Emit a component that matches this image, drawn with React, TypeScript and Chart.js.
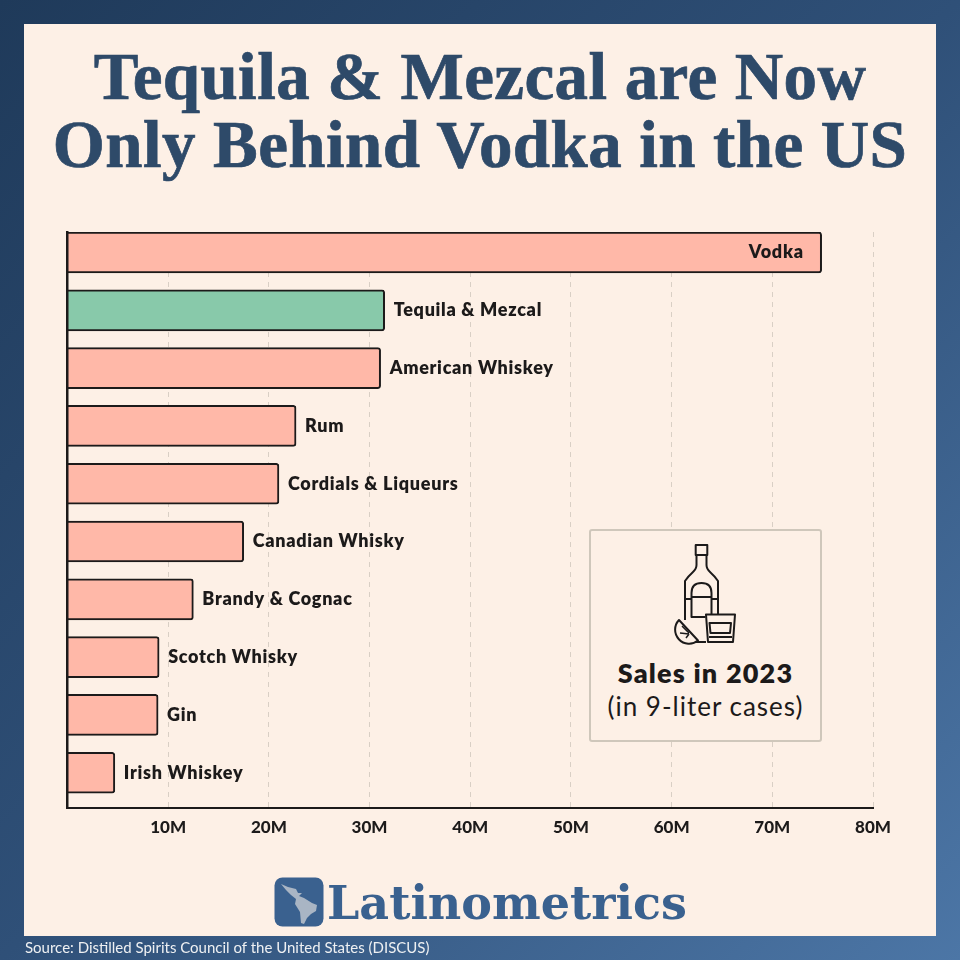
import React, { useEffect, useRef } from "react";
import { Chart, registerables } from "chart.js";

Chart.register(...registerables);

const categories = ["Vodka","Tequila & Mezcal","American Whiskey","Rum","Cordials & Liqueurs","Canadian Whisky","Brandy & Cognac","Scotch Whisky","Gin","Irish Whiskey"];
const salesMillions = [74.9, 31.5, 31.1, 22.7, 21.0, 17.5, 12.5, 9.1, 9.0, 4.7];
const barColors = ["#ffb8a8","#88c9aa","#ffb8a8","#ffb8a8","#ffb8a8","#ffb8a8","#ffb8a8","#ffb8a8","#ffb8a8","#ffb8a8"];
const INK = "#1c1a1a";
const LABEL_FONT = "800 18px Lato";

const barLabels = {
  id: "barLabels",
  afterDatasetsDraw(chart: any) {
    const { ctx, scales } = chart;
    ctx.save();
    ctx.font = LABEL_FONT;
    ctx.fillStyle = INK;
    ctx.textBaseline = "middle";
    try { ctx.letterSpacing = "0.7px"; } catch {}
    categories.forEach((name, i) => {
      const x = scales.x.getPixelForValue(salesMillions[i]);
      const y = scales.y.getPixelForValue(i);
      if (i === 0) { ctx.textAlign = "right"; ctx.fillText(name, x - 18, y); }
      else { ctx.textAlign = "left"; ctx.fillText(name, x + 9, y); }
    });
    ctx.restore();
  },
};

function App() {
  const ref = useRef<HTMLCanvasElement>(null);
  useEffect(() => {
    const chart = new Chart(ref.current!, {
      type: "bar",
      data: {
        datasets: [{
          label: "Sales in 2023",
          data: salesMillions.map((v, i) => ({ x: v, y: i })),
          backgroundColor: barColors,
          borderColor: INK,
          borderWidth: 2,
          borderRadius: 3,
          barThickness: 41,
        }],
      },
      options: {
        indexAxis: "y",
        responsive: false,
        animation: false,
        layout: { padding: { left: 67.5, right: 87, top: 232, bottom: 0 } },
        plugins: { legend: { display: false }, tooltip: { enabled: false }, title: { display: false } },
        scales: {
          x: {
            type: "linear", min: 0, max: 80,
            afterFit: (s: any) => { s.height = 152; },
            grid: { color: "#d9cfc5", lineWidth: 1, drawTicks: false },
            border: { color: INK, width: 2, dash: [5, 5] },
            ticks: {
              stepSize: 10, padding: 9, color: INK, maxRotation: 0,
              font: { family: "Lato", weight: "900", size: 17 },
              callback: (v: any) => (v === 0 ? "" : `${v}M`),
            },
          },
          y: {
            type: "linear", reverse: true, offset: false, min: -0.355, max: 9.61,
            afterFit: (s: any) => { s.width = 0; },
            grid: { display: false },
            border: { color: INK, width: 2.5, z: 2 },
            ticks: { display: false },
          },
        },
      },
      plugins: [barLabels],
    } as any);
    return () => chart.destroy();
  }, []);

  const abs = (o: React.CSSProperties): React.CSSProperties => ({ position: "absolute", ...o });
  return (
    <div style={abs({ left: 0, top: 0, width: 960, height: 960, overflow: "hidden", background: "linear-gradient(135deg,#1f3a5a 0%,#2f5078 50%,#4c76a6 100%)" })}>
      <div style={abs({ left: 24, top: 24, width: 912, height: 912, background: "#fdf0e6" })} />
      <div style={abs({ left: 0, top: 42, width: 960, textAlign: "center", color: "#2e4a69", fontFamily: "'Liberation Serif'", fontWeight: 700, fontSize: 67, lineHeight: "68px", letterSpacing: 0.4, whiteSpace: "nowrap", WebkitTextStroke: "0.7px #2e4a69" } as React.CSSProperties)}>
        Tequila &amp; Mezcal are Now<br />Only Behind Vodka in the US
      </div>
      <canvas ref={ref} width={960} height={960} style={abs({ left: 0, top: 0, width: 960, height: 960 })} />
      <div style={abs({ left: 589, top: 529, width: 229, height: 209, border: "2px solid #cfc7bb", borderRadius: 3, background: "#fdf0e6", textAlign: "center", color: INK })}>
        <svg width="229" height="130" viewBox="591 531 229 130" style={abs({ left: 0, top: 0 })} fill="none" stroke={INK} strokeWidth="2" strokeLinejoin="round">
          <rect x="695.7" y="545" width="11.6" height="10" />
          <path d="M696.500 555v10q0 4-4 7.500t-7.500 8.500v39M706.500 555v10q0 4 4 7.500t7.500 8.500v33" />
          <path d="M691.500 597v-4q0-10 10-10t10 10v21M691.500 597h19M691.500 597v20h14M685 599h6M711 599h7M695 642h11" />
          <path d="M706 614.500h29l-2 27.500h-25z" />
          <path d="M709.500 623h21.500l-1 10h-19.500zM709 637h23" />
          <path d="M679 620L698 640.500A14 14 0 0 1 679 620Z" />
          <path d="M682 626L689 633M680 633L689 634M686 638L689 634" strokeWidth="1.500" />
        </svg>
        <div style={abs({ left: 0, width: 229, top: 125, fontFamily: "Lato", fontWeight: 800, fontSize: 27, letterSpacing: 1.2 })}>Sales in 2023</div>
        <div style={abs({ left: 0, width: 229, top: 159, fontFamily: "Lato", fontWeight: 400, fontSize: 26, letterSpacing: 1 })}>(in 9-liter cases)</div>
      </div>
      <svg width="50" height="50" viewBox="0 0 50 50" style={abs({ left: 274, top: 877 })}>
        <rect x="0.500" y="0.500" width="49" height="49" rx="8" fill="#3a618f" />
        <path d="M7 7l7 3 8 2 2 4 4 0-3 3 5 2 8 5 5 2-1 6-5 3-4 4-3 6-3-1-1-11-5-8 1-5-5-4-5-5z" fill="#a9b5c4" />
      </svg>
      <div style={abs({ left: 327, top: 872, fontFamily: "'DejaVu Serif'", fontWeight: 700, fontSize: 46, lineHeight: "62px", color: "#3a618f", whiteSpace: "nowrap" })}>Latinometrics</div>
      <div style={abs({ left: 25, top: 937, fontFamily: "Lato", fontSize: 15, lineHeight: "20px", color: "#eef0f2", whiteSpace: "nowrap" })}>Source: Distilled Spirits Council of the United States (DISCUS)</div>
    </div>
  );
}

export default App;
